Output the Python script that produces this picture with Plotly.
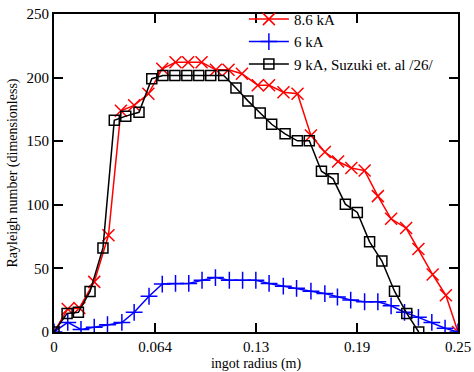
import plotly.graph_objects as go

# 8.6 kA
x_86 = [0, 0.0085, 0.0157, 0.0249, 0.0337, 0.0414, 0.0496, 0.0584, 0.067, 0.0752, 0.083,
        0.0913, 0.1002, 0.108, 0.1163, 0.1261, 0.1331, 0.142, 0.1507, 0.159, 0.1676, 0.1758,
        0.184, 0.1922, 0.2004, 0.2086, 0.2179, 0.2255, 0.2343, 0.2425, 0.25]
y_86 = [0, 18.1, 18.9, 39.4, 76, 173.9, 178.2, 187.3, 207, 212, 212,
        212, 206.1, 206.1, 203.1, 194, 194, 188.5, 187.3, 154.5, 141.5, 134,
        129, 126.9, 106.8, 89, 81.7, 65.3, 45.2, 28.9, 0]

# 6 kA
x_6 = [0, 0.0085, 0.0167, 0.0249, 0.0331, 0.042, 0.0496, 0.0588, 0.067, 0.0752, 0.0834,
       0.0916, 0.0999, 0.1085, 0.1167, 0.1249, 0.1331, 0.1419, 0.1501, 0.159, 0.1676,
       0.1754, 0.1836, 0.1922, 0.2004, 0.2086, 0.2169, 0.2255, 0.2338, 0.242, 0.25]
y_6 = [0, 7.5, 2, 3.8, 5.7, 7.5, 15.5, 28.1, 37.7, 38.2, 38.2,
       40.7, 42.8, 40.7, 40.7, 40.7, 38.2, 36, 34.3, 32.1, 30.2,
       27.5, 25.1, 23.8, 23.8, 20.6, 15.5, 11.5, 7.5, 3, 0]

# 9 kA, Suzuki et al.
x_9 = [0, 0.0081, 0.0151, 0.0223, 0.0303, 0.0373, 0.0444, 0.0526, 0.0605, 0.0674, 0.0748,
       0.0822, 0.0896, 0.097, 0.105, 0.1126, 0.12, 0.1276, 0.1347, 0.143, 0.1506, 0.158,
       0.1655, 0.1727, 0.1803, 0.1877, 0.1953, 0.2029, 0.2107, 0.2183, 0.2257]
y_9 = [0, 14.6, 15.5, 31.9, 66.1, 166.4, 169.7, 172.7, 199.1, 201.6, 201.6,
       201.6, 201.6, 201.6, 201.6, 191.8, 181.7, 172.2, 163.3, 155.8, 150.3, 150.3,
       126.4, 120.4, 100.5, 94, 70.9, 55.8, 32.1, 14.6, 0]

x_tickvals = [0, 0.0625, 0.125, 0.1875, 0.25]
x_ticktext = ["0", "0.064", "0.13", "0.19", "0.25"]
y_tickvals = [0, 50, 100, 150, 200, 250]

FONT = "Liberation Serif"

fig = go.Figure()
fig.add_trace(go.Scatter(
    x=x_86, y=y_86, mode="lines+markers", name="8.6 kA",
    line=dict(color="#ff0000", width=1.5),
    marker=dict(symbol="x-thin", size=12, line=dict(color="#ff0000", width=1.5)),
))
fig.add_trace(go.Scatter(
    x=x_6, y=y_6, mode="lines+markers", name="6 kA",
    line=dict(color="#0000ff", width=1.5),
    marker=dict(symbol="cross-thin", size=12, line=dict(color="#0000ff", width=1.5)),
))
fig.add_trace(go.Scatter(
    x=x_9, y=y_9, mode="lines+markers", name="9 kA, Suzuki et. al /26/",
    line=dict(color="#000000", width=1.5),
    marker=dict(symbol="square-open", size=10, color="#000000", line=dict(width=1.5)),
))

axis_common = dict(
    showline=True, linecolor="black", linewidth=2, mirror="ticks",
    ticks="inside", ticklen=9, tickwidth=2, tickcolor="black",
    showgrid=False, zeroline=False, ticklabeloverflow="allow",
    tickfont=dict(family=FONT, size=15, color="black"),
)

fig.update_xaxes(
    range=[0, 0.25], tickvals=x_tickvals, ticktext=x_ticktext,
    title=dict(text="ingot radius (m)", font=dict(family=FONT, size=14, color="black"), standoff=4),
    **axis_common,
)
fig.update_yaxes(
    range=[0, 250], tickvals=y_tickvals,
    title=dict(text="Rayleigh number (dimensionless)", font=dict(family=FONT, size=14, color="black"), standoff=6),
    **axis_common,
)

fig.update_layout(
    width=474, height=372,
    margin=dict(l=54, r=14, t=3, b=39),
    paper_bgcolor="white", plot_bgcolor="white",
    font=dict(family=FONT, color="black"),
    showlegend=True,
    legend=dict(
        x=0.47, y=1.035, xanchor="left", yanchor="top",
        bgcolor="rgba(0,0,0,0)", borderwidth=0,
        font=dict(family=FONT, size=15, color="black"),
        itemwidth=40, tracegroupgap=0,
    ),
)

fig.write_html("out.html", config={"displayModeBar": False},
               post_script="document.body.style.margin='0';")
